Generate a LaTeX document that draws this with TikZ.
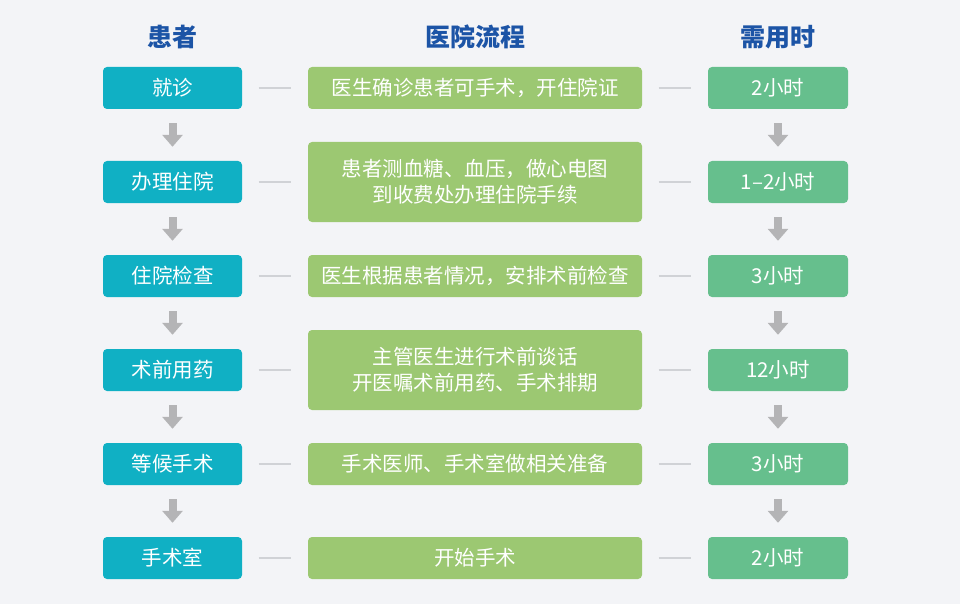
\documentclass[tikz,border=0pt]{standalone}
\usepackage{fontspec}
\setmainfont{Noto Sans CJK SC}
\usepackage{tikz}
\usetikzlibrary{arrows.meta, positioning}
\definecolor{bgcol}{RGB}{243,244,247}
\definecolor{mycyan}{RGB}{16,176,196}
\definecolor{mygreen}{RGB}{156,200,114}
\definecolor{myteal}{RGB}{102,191,141}
\definecolor{myblue}{RGB}{28,84,166}
\definecolor{linegray}{RGB}{208,210,214}
\definecolor{arrowgray}{RGB}{180,180,182}

\tikzset{
    box/.style={rounded corners=4pt, minimum height=42pt, inner sep=0pt,
                align=center, text=white, font=\fontsize{20.5}{26}\selectfont},
    patient/.style={box, fill=mycyan, minimum width=139pt},
    proc/.style={box, fill=mygreen, minimum width=334pt},
    tall/.style={minimum height=80pt},
    hours/.style={box, fill=myteal, minimum width=140pt},
    head/.style={text=myblue, font=\fontsize{25}{28}\selectfont\bfseries},
    link/.style={draw=linegray, line width=1.2pt, shorten <=16.5pt, shorten >=16.5pt},
    flow/.style={draw=arrowgray, line width=8pt, shorten <=14pt, shorten >=14pt,
                 -{Triangle[width=20pt, length=12pt]}}
}

\begin{document}
\begin{tikzpicture}[x=1pt, y=-1pt]
    \fill[bgcol] (0,0) rectangle (960,604);
    \useasboundingbox (0,0) rectangle (960,604);

    % headers
    \node[head] (h1) at (172.5,37) {患者};
    \node[head] (h2) at (475,37) {医院流程};
    \node[head] (h3) at (778,37) {需用时};

    % left column
    \node[patient] (p1) at (172.5,88) {就诊};
    \node[patient] (p2) at (172.5,182) {办理住院};
    \node[patient] (p3) at (172.5,276) {住院检查};
    \node[patient] (p4) at (172.5,370) {术前用药};
    \node[patient] (p5) at (172.5,464) {等候手术};
    \node[patient] (p6) at (172.5,558) {手术室};

    % middle column
    \node[proc] (m1) at (475,88) {医生确诊患者可手术，开住院证};
    \node[proc, tall] (m2) at (475,182) {患者测血糖、血压，做心电图\\到收费处办理住院手续};
    \node[proc] (m3) at (475,276) {医生根据患者情况，安排术前检查};
    \node[proc, tall] (m4) at (475,370) {主管医生进行术前谈话\\开医嘱术前用药、手术排期};
    \node[proc] (m5) at (475,464) {手术医师、手术室做相关准备};
    \node[proc] (m6) at (475,558) {开始手术};

    % right column
    \node[hours] (r1) at (778,88) {2小时};
    \node[hours] (r2) at (778,182) {1–2小时};
    \node[hours] (r3) at (778,276) {3小时};
    \node[hours] (r4) at (778,370) {12小时};
    \node[hours] (r5) at (778,464) {3小时};
    \node[hours] (r6) at (778,558) {2小时};

    \foreach \i in {1,...,6} {
        \draw[link] (p\i) -- (m\i);
        \draw[link] (m\i) -- (r\i);
    }
    \foreach \i [evaluate=\i as \j using int(\i+1)] in {1,...,5} {
        \draw[flow] (p\i) -- (p\j);
        \draw[flow] (r\i) -- (r\j);
    }
\end{tikzpicture}
\end{document}
